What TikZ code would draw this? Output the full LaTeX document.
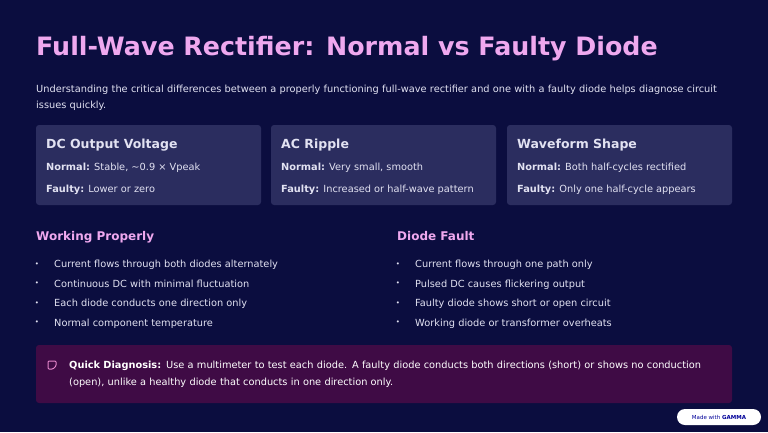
\documentclass[tikz,border=0pt]{standalone}
\usepackage{fontspec}
\setmainfont{DejaVu Sans}
\definecolor{bg}{HTML}{0B0D3F}
\definecolor{card}{HTML}{2B2D5F}
\definecolor{pink}{HTML}{EFA8EF}
\definecolor{txt}{HTML}{E2E2F2}
\definecolor{qbox}{HTML}{3F0B45}
\begin{document}
\begin{tikzpicture}[x=1pt,y=-1pt,
  lbl/.style={anchor=base west,inner sep=0pt,text=txt,font=\fontsize{9.8}{11}\selectfont},
  cardbox/.style={fill=card,rounded corners=3pt},
  head/.style={anchor=base west,inner sep=0pt,text=txt,font=\fontsize{12.5}{14}\selectfont\bfseries},
  sec/.style={anchor=base west,inner sep=0pt,text=pink,font=\fontsize{12}{14}\selectfont\bfseries},
  bul/.style={anchor=base,inner sep=0pt,text=txt,font=\fontsize{7}{8}\selectfont}]
\fill[bg] (0,0) rectangle (768,432);
\useasboundingbox (0,0) rectangle (768,432);
\node[anchor=base west,inner sep=0pt,text=pink,font=\fontsize{25.3}{28}\selectfont\bfseries] (title) at (36,55) {Full-Wave Rectifier: Normal vs Faulty Diode};
\node[anchor=north west,inner sep=0pt,text=txt,font=\fontsize{9.8}{16}\selectfont,text width=696pt,align=left] (intro) at (36,85) {Understanding the critical differences between a properly functioning full-wave rectifier and one with a faulty diode helps diagnose circuit issues quickly.};
\foreach \x/\h/\n/\f [count=\i] in {36/DC Output Voltage/{Stable, \textasciitilde0.9 × Vpeak}/Lower or zero,
  271/AC Ripple/{Very small, smooth}/Increased or half-wave pattern,
  507/Waveform Shape/Both half-cycles rectified/Only one half-cycle appears}{
  \fill[cardbox] (\x,125) rectangle ++(225,80);
  \node[head] (h\i) at (\x+10,148) {\h};
  \node[lbl] (n\i) at (\x+10,170.5) {\textbf{Normal:} \n};
  \node[lbl] (f\i) at (\x+10,192.5) {\textbf{Faulty:} \f};
}
\node[sec] (wp) at (36,240.5) {Working Properly};
\node[sec] (df) at (397,240.5) {Diode Fault};
\foreach \t [count=\i] in {Current flows through both diodes alternately,Continuous DC with minimal fluctuation,Each diode conducts one direction only,Normal component temperature}{
  \node[bul] (lb\i) at (37,266+19.5*\i-19.5) {•};
  \node[lbl] (l\i) at (54,267.5+19.5*\i-19.5) {\t};}
\foreach \t [count=\i] in {Current flows through one path only,Pulsed DC causes flickering output,Faulty diode shows short or open circuit,Working diode or transformer overheats}{
  \node[bul] (rb\i) at (398,266+19.5*\i-19.5) {•};
  \node[lbl] (r\i) at (415,267.5+19.5*\i-19.5) {\t};}
\fill[qbox,rounded corners=3pt] (36,345) rectangle (732,403);
\draw[pink!80!purple,line width=1pt,rounded corners=1pt] (48,361) -- (48,369) -- (53,369) -- (56,366) -- (56,361) -- cycle;
\node[anchor=north west,inner sep=0pt,text=white,font=\fontsize{9.8}{17}\selectfont,text width=660pt,align=left] (qd) at (69,361) {\textbf{Quick Diagnosis:} Use a multimeter to test each diode. A faulty diode conducts both directions (short) or shows no conduction (open), unlike a healthy diode that conducts in one direction only.};
\fill[white,rounded corners=8pt] (677,409) rectangle (761,425);
\node[inner sep=0pt,text=blue!60!black,font=\fontsize{5.5}{6}\selectfont] (badge) at (719,417) {Made with \textbf{GAMMA}};
\end{tikzpicture}
\end{document}
